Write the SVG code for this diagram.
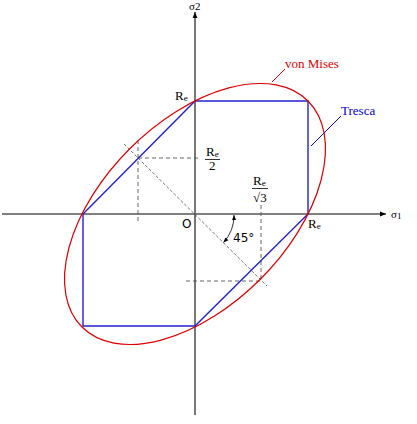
<svg xmlns="http://www.w3.org/2000/svg" width="417" height="424" viewBox="0 0 417 424">
<defs>
<style>
.axis{stroke:#555;stroke-width:1.6;fill:none}
.dash{stroke:#555;stroke-width:0.9;stroke-dasharray:4,3;fill:none}
.diag{stroke:#333;stroke-width:0.7;stroke-dasharray:3,2;fill:none}
.t{font-family:"Liberation Serif","DejaVu Serif",serif;font-size:13px;fill:#000}
.s{font-family:"DejaVu Sans","Liberation Sans",sans-serif;font-size:12px;fill:#000}
.sub{font-size:9px}
</style>
<marker id="ah" viewBox="0 0 10 10" refX="10" refY="5" markerWidth="6" markerHeight="6" orient="auto" markerUnits="userSpaceOnUse"><path d="M0,1 L10,5 L0,9 Z" fill="#000"/></marker>
<marker id="sa" viewBox="0 0 10 10" refX="10" refY="5" markerWidth="5" markerHeight="5" orient="auto" markerUnits="userSpaceOnUse"><path d="M0,1 L10,5 L0,9 Z" fill="#000"/></marker>
<marker id="sb" viewBox="0 0 10 10" refX="0" refY="5" markerWidth="5" markerHeight="5" orient="auto" markerUnits="userSpaceOnUse"><path d="M10,1 L0,5 L10,9 Z" fill="#000"/></marker>
</defs>
<rect width="417" height="424" fill="#fff"/>
<g id="connectors">
<line class="dash" x1="138" y1="158" x2="200" y2="158"/>
<line class="dash" x1="138" y1="140" x2="138" y2="224"/>
<line class="dash" x1="261" y1="205" x2="261" y2="282"/>
<line class="dash" x1="186" y1="281" x2="262" y2="281"/>
<line class="diag" x1="124" y1="144" x2="267" y2="286"/>
<line class="axis" x1="2" y1="214" x2="386" y2="214" marker-end="url(#ah)"/>
<line class="axis" x1="195" y1="415" x2="195" y2="12" marker-end="url(#ah)"/>
<path d="M234,215 A40,40 0 0 1 223.5,242.5" fill="none" stroke="#000" stroke-width="0.8" marker-start="url(#sb)" marker-end="url(#sa)"/>
<line x1="272" y1="82" x2="285" y2="69" stroke="#d00" stroke-width="1"/>
<line x1="311" y1="146" x2="341" y2="116" stroke="#00c" stroke-width="1"/>
</g>
<g id="tresca">
<polygon points="195,101 308,101 308,214 195,326 83,326 83,214" fill="none" stroke="#22c" stroke-width="1.4"/>
</g>
<g id="vonmises">
<ellipse cx="195" cy="214" rx="159.8" ry="92.3" transform="rotate(-45 195 214)" fill="none" stroke="#d00" stroke-width="1.2"/>
</g>
<g id="labels">
<text class="t" x="189" y="10" style="font-size:11px">σ2</text>
<text class="t" x="391" y="218" style="font-size:11px">σ<tspan class="sub" dy="1">1</tspan></text>
<text class="t" x="175" y="100">R<tspan class="sub" dy="1">e</tspan></text>
<text class="t" x="308" y="228">R<tspan class="sub" dy="1">e</tspan></text>
<text class="s" x="182" y="228">O</text>
<text class="t" x="285" y="68" fill="#d00" style="fill:#d00">von Mises</text>
<text class="t" x="341" y="115" style="fill:#00c">Tresca</text>
<text class="t" x="206" y="156">R<tspan class="sub" dy="1">e</tspan></text>
<line x1="205" y1="159.5" x2="220" y2="159.5" stroke="#000" stroke-width="0.8"/>
<text class="t" x="209" y="170">2</text>
<text class="t" x="253" y="185">R<tspan class="sub" dy="1">e</tspan></text>
<line x1="252" y1="188.5" x2="268" y2="188.5" stroke="#000" stroke-width="0.8"/>
<text class="t" x="253" y="202">√3</text>
<text class="s" x="233" y="242">45°</text>
</g>
</svg>
